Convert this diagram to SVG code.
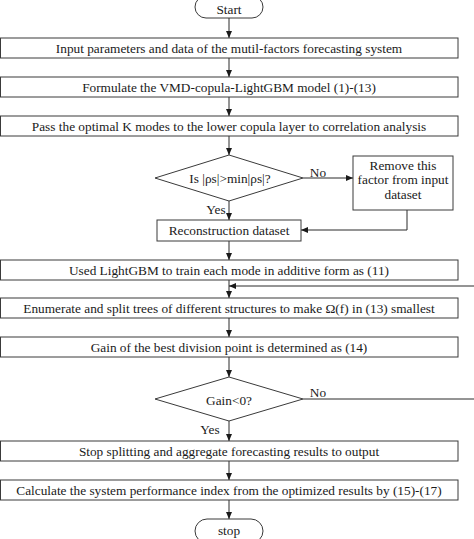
<svg xmlns="http://www.w3.org/2000/svg" width="474" height="539" viewBox="0 0 474 539">
<defs>
<style>
.b{fill:#fff;stroke:#3a3a3a;stroke-width:1}
.t{font-family:"Liberation Serif","Times New Roman",serif;font-size:13.3px;fill:#1a1a1a;text-anchor:middle;dominant-baseline:central}
.c{fill:none;stroke:#2a2a2a;stroke-width:1}
</style>
<marker id="ah" markerWidth="8" markerHeight="8" refX="7" refY="4" orient="auto" markerUnits="userSpaceOnUse">
<path d="M0,1 L7,4 L0,7 Z" fill="#1a1a1a"/>
</marker>
</defs>
<rect width="474" height="539" fill="#fff"/>
<g id="connectors">
<line class="c" x1="229" y1="18" x2="229" y2="38" marker-end="url(#ah)"/>
<line class="c" x1="229" y1="58" x2="229" y2="77" marker-end="url(#ah)"/>
<line class="c" x1="229" y1="97" x2="229" y2="116" marker-end="url(#ah)"/>
<line class="c" x1="229" y1="136" x2="229" y2="155" marker-end="url(#ah)"/>
<line class="c" x1="303" y1="178" x2="353" y2="178" marker-end="url(#ah)"/>
<line class="c" x1="229" y1="201" x2="229" y2="220" marker-end="url(#ah)"/>
<polyline class="c" points="407,210 407,230 301,230" marker-end="url(#ah)"/>
<line class="c" x1="229" y1="241" x2="229" y2="260" marker-end="url(#ah)"/>
<line class="c" x1="229" y1="280" x2="229" y2="298" marker-end="url(#ah)"/>
<polyline class="c" points="303,399 476,399 476,286 229,286" marker-end="url(#ah)"/>
<line class="c" x1="229" y1="318" x2="229" y2="337" marker-end="url(#ah)"/>
<line class="c" x1="229" y1="357" x2="229" y2="377" marker-end="url(#ah)"/>
<line class="c" x1="229" y1="421" x2="229" y2="441" marker-end="url(#ah)"/>
<line class="c" x1="229" y1="461" x2="229" y2="480" marker-end="url(#ah)"/>
<line class="c" x1="229" y1="500" x2="229" y2="519" marker-end="url(#ah)"/>
<text class="t" x="318" y="172">No</text>
<text class="t" x="216" y="209">Yes</text>
<text class="t" x="318" y="392">No</text>
<text class="t" x="210" y="429">Yes</text>
</g>
<g id="start">
<rect class="b" x="195" y="-4" width="68" height="22" rx="11" ry="11"/>
<text class="t" x="229" y="9">Start</text>
</g>
<g id="n1">
<rect class="b" x="0.5" y="38" width="457.5" height="20"/>
<text class="t" x="229" y="48">Input parameters and data of the mutil-factors forecasting system</text>
</g>
<g id="n2">
<rect class="b" x="0.5" y="77" width="457.5" height="20"/>
<text class="t" x="229" y="87">Formulate the VMD-copula-LightGBM model (1)-(13)</text>
</g>
<g id="n3">
<rect class="b" x="0.5" y="116" width="457.5" height="20"/>
<text class="t" x="229" y="126">Pass  the optimal K modes to the lower copula layer to correlation analysis</text>
</g>
<g id="d1">
<polygon class="b" points="229,155 303,178 229,201 155,178"/>
<text class="t" x="230" y="178">Is |ρs|&gt;min|ρs|?</text>
</g>
<g id="remove">
<rect class="b" x="353" y="156" width="100" height="54"/>
<text class="t" x="403" y="165">Remove this</text>
<text class="t" x="403" y="179">factor from input</text>
<text class="t" x="403" y="194">dataset</text>
</g>
<g id="recon">
<rect class="b" x="157" y="220" width="144" height="21"/>
<text class="t" x="229" y="230.5">Reconstruction dataset</text>
</g>
<g id="n4">
<rect class="b" x="0.5" y="260" width="457.5" height="20"/>
<text class="t" x="229" y="270">Used LightGBM to train each mode in additive form as (11)</text>
</g>
<g id="n5">
<rect class="b" x="0.5" y="298" width="457.5" height="20"/>
<text class="t" x="229" y="308">Enumerate and split trees of different structures to make Ω(f) in (13) smallest</text>
</g>
<g id="n6">
<rect class="b" x="0.5" y="337" width="457.5" height="20"/>
<text class="t" x="229" y="347">Gain of the best division point is determined as (14)</text>
</g>
<g id="d2">
<polygon class="b" points="229,377 303,399 229,421 155,399"/>
<text class="t" x="229" y="400">Gain&lt;0?</text>
</g>
<g id="n7">
<rect class="b" x="0.5" y="441" width="457.5" height="20"/>
<text class="t" x="229" y="451">Stop splitting and aggregate forecasting results to output</text>
</g>
<g id="n8">
<rect class="b" x="0.5" y="480" width="457.5" height="20"/>
<text class="t" x="229" y="490">Calculate the system performance index from the optimized results by (15)-(17)</text>
</g>
<g id="stop">
<rect class="b" x="195" y="519" width="68" height="24" rx="12" ry="12"/>
<text class="t" x="229" y="530">stop</text>
</g>
</svg>
